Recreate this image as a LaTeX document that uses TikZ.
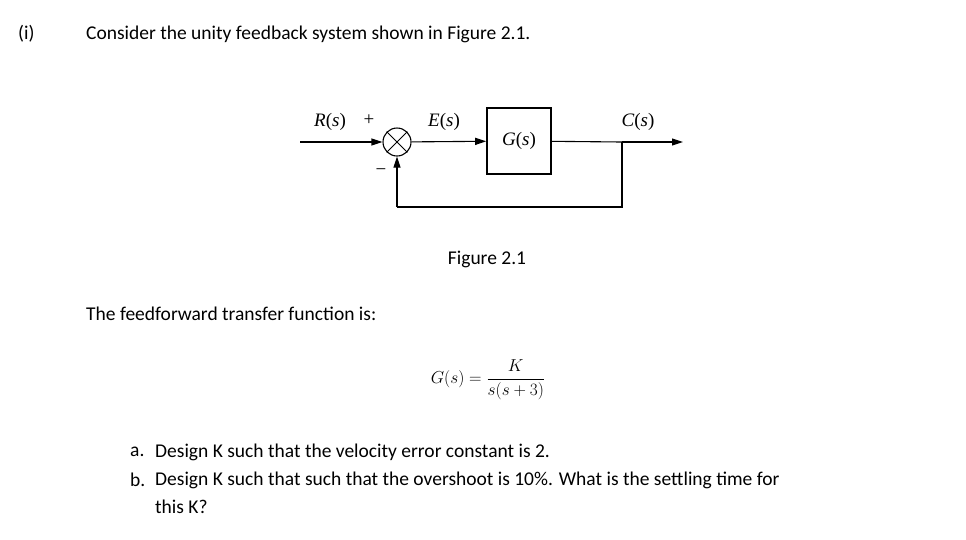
\documentclass[tikz,border=0pt]{standalone}
\usepackage{fontspec}
\setmainfont{Carlito}
\newfontfamily\tms{Liberation Serif}
\usetikzlibrary{arrows.meta}
\begin{document}
\begin{tikzpicture}[x=1pt,y=-1pt,
  txt/.style={anchor=west,inner sep=0pt,font=\fontsize{19.5}{24}\selectfont},
  lbl/.style={inner sep=0pt,font=\tms\fontsize{19}{22}\selectfont\itshape},
  sgn/.style={inner sep=0pt,font=\tms\fontsize{19}{22}\selectfont},
  sig/.style={line width=1.1pt,-{Triangle[length=11pt,width=7pt]}},
  wire/.style={line width=1.1pt}]
\useasboundingbox (0,0) rectangle (966,539);
\node[txt] (t0) at (18,34) {(i)};
\node[txt] (t1) at (86,34) {Consider the unity feedback system shown in Figure 2.1.};
\node[draw,circle,line width=1.1pt,minimum size=28pt,inner sep=0pt] (sum) at (397,142) {};
\draw[line width=1pt] (sum.north west)--(sum.south east) (sum.north east)--(sum.south west);
\node[draw,line width=1.6pt,minimum width=64pt,minimum height=66pt] (G) at (519,141) {\tms\fontsize{19}{22}\selectfont\itshape G\/\upshape(\itshape s\/\upshape)};
\coordinate (in) at (300,142);
\coordinate (br) at (622,142);
\coordinate (out) at (683,142);
\coordinate (fb1) at (622,207);
\coordinate (fb2) at (397,207);
\draw[sig] (in) -- (sum);
\draw[sig] (sum) -- (G);
\draw[wire] (G) -- (br);
\draw[sig] (br) -- (out);
\draw[wire] (br) -- (fb1) -- (fb2);
\draw[sig] (fb2) -- (sum);
\node[lbl] (R) at (330,122) {R\/\upshape(\itshape s\/\upshape)};
\node[sgn] (p) at (369,120) {+};
\node[sgn] (m) at (381,172) {\textminus};
\node[lbl] (E) at (444,122) {E\/\upshape(\itshape s\/\upshape)};
\node[lbl] (C) at (638,122) {C\/\upshape(\itshape s\/\upshape)};
\node[txt,anchor=center] (fig) at (487,259) {Figure 2.1};
\node[txt] (ff) at (86,314) {The feedforward transfer function is:};
\node[inner sep=0pt,font=\fontsize{19}{22}\selectfont] (eq) at (488,380) {$\displaystyle G(s)=\frac{K}{s(s+3)}$};
\node[txt] (a) at (130,452) {a.};
\node[txt] (at) at (155,452) {Design K such that the velocity error constant is 2.};
\node[txt] (b) at (130,480) {b.};
\node[txt] (bt) at (155,480) {Design K such that such that the overshoot is 10\%. What is the settling time for};
\node[txt] (bt2) at (155,507) {this K?};
\end{tikzpicture}
\end{document}
